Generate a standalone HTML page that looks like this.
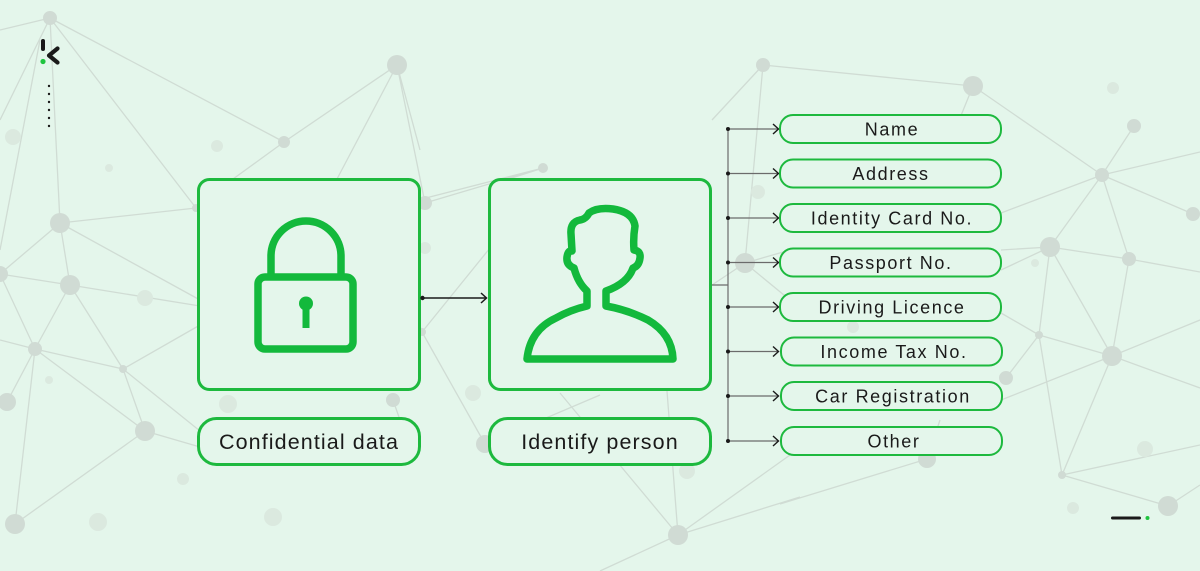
<!DOCTYPE html>
<html>
<head>
<meta charset="utf-8">
<style>
html,body{margin:0;padding:0;}
body{width:1200px;height:571px;overflow:hidden;background:#e4f6eb;}
svg{display:block;}
text{font-family:"Liberation Sans",sans-serif;fill:#1a1a1a;}
</style>
</head>
<body>
<svg width="1200" height="571" viewBox="0 0 1200 571" xmlns="http://www.w3.org/2000/svg">
<rect width="1200" height="571" fill="#e4f6eb"/>
<path fill="none" stroke="#d0dcd4" stroke-width="1.3" d="M50 18L0 30M50 18L284 142M50 18L196 208M50 18L60 223M50 18L0 120M40 40L0 250M397 65L284 142M397 65L425 203M397 65L337 179M397 65L420 150M284 142L233 179M60 223L196 208M60 223L0 274M60 223L70 285M60 223L200 300M0 274L70 285M0 274L35 349M70 285L200 306M70 285L35 349M70 285L123 369M35 349L0 340M35 349L123 369M35 349L7 402M35 349L15 524M35 349L145 431M123 369L200 325M123 369L145 431M123 369L200 431M145 431L200 447M145 431L15 524M393 400L400 420M425 203L543 168M543 168L490 185M543 168L418 200M422 332L490 248M422 332L485 444M422 332L418 320M485 444L600 395M678 535L667 391M678 535L800 497M678 535L790 455M678 535L560 393M678 535L600 571M763 65L973 86M763 65L745 263M763 65L712 120M745 263L712 285M745 263L790 250M745 263L790 300M973 86L1102 175M973 86L960 118M1134 126L1102 175M1102 175L1200 152M1102 175L1193 214M1102 175L1050 247M1102 175L1129 259M1102 175L1001 213M1050 247L1001 250M1050 247L1001 270M1050 247L1129 259M1050 247L1112 356M1050 247L1039 335M1129 259L1200 272M1129 259L1112 356M1039 335L1112 356M1039 335L1006 378M1039 335L1062 475M1039 335L1001 313M1112 356L1200 320M1112 356L1200 388M1112 356L1062 475M1112 356L1001 400M1062 475L1168 506M1062 475L1200 445M1168 506L1200 485M780 504L927 459M927 459L940 420"/>
<g fill="none" stroke-linecap="round">
<path stroke="#d0dbd4" stroke-width="20" d="M397 65h0M60 223h0M70 285h0M145 431h0M15 524h0M678 535h0M745 263h0M973 86h0M1050 247h0M1112 356h0M1168 506h0"/>
<path stroke="#d0dbd4" stroke-width="18" d="M7 402h0M485 444h0M927 459h0"/>
<path stroke="#d0dbd4" stroke-width="16" d="M0 274h0"/>
<path stroke="#d0dbd4" stroke-width="14" d="M50 18h0M35 349h0M393 400h0M425 203h0M763 65h0M1134 126h0M1102 175h0M1193 214h0M1129 259h0M1006 378h0"/>
<path stroke="#d0dbd4" stroke-width="12" d="M284 142h0"/>
<path stroke="#d0dbd4" stroke-width="10" d="M543 168h0"/>
<path stroke="#d0dbd4" stroke-width="8" d="M196 208h0M123 369h0M422 332h0M1039 335h0M1062 475h0"/>
<path stroke="#dbe9df" stroke-width="18" d="M98 522h0M273 517h0M228 404h0"/>
<path stroke="#dbe9df" stroke-width="16" d="M13 137h0M145 298h0M1145 449h0M473 393h0M687 471h0"/>
<path stroke="#dbe9df" stroke-width="14" d="M758 192h0"/>
<path stroke="#dbe9df" stroke-width="12" d="M217 146h0M183 479h0M1113 88h0M853 327h0M1073 508h0M425 248h0"/>
<path stroke="#dbe9df" stroke-width="8" d="M109 168h0M49 380h0M1035 263h0"/>
<path stroke="#1a1a1a" stroke-width="2.4" d="M49 86h0M49 94h0M49 102h0M49 110h0M49 118h0M49 126h0"/>
</g>
<rect x="41" y="39" width="4" height="12" rx="2" fill="#1a1a1a"/>
<polyline points="57.5,48.5 49,55.5 57.5,62.5" fill="none" stroke="#1a1a1a" stroke-width="4.2" stroke-linecap="round" stroke-linejoin="round"/>
<circle cx="43" cy="61.5" r="2.6" fill="#1fc43f"/>
<rect x="1111" y="516.5" width="30" height="3" rx="1.5" fill="#1a1a1a"/>
<circle cx="1147.5" cy="518" r="2" fill="#1fc43f"/>
<g fill="#e4f6eb" stroke="#1db93e" stroke-width="3">
<rect x="198.5" y="179.5" width="221" height="210" rx="11"/>
<rect x="198.5" y="418.5" width="221" height="46" rx="18"/>
<rect x="489.5" y="179.5" width="221" height="210" rx="11"/>
<rect x="489.5" y="418.5" width="221" height="46" rx="18"/>
</g>
<text x="309" y="449" font-size="21.5" text-anchor="middle" letter-spacing="1.1">Confidential data</text>
<text x="600" y="449" font-size="21.5" text-anchor="middle" letter-spacing="1.1">Identify person</text>
<g fill="none" stroke="#13b93c" stroke-width="7.5">
<path d="M271 277 L271 256 A35 35 0 0 1 341 256 L341 277"/>
<rect x="258" y="277" width="95" height="72" rx="7"/>
</g>
<circle cx="306" cy="303.5" r="7" fill="#13b93c"/>
<rect x="302.5" y="304" width="7" height="24" fill="#13b93c"/>
<path d="M587 306 L587 291 Q578 283 574 268 Q566 265 567 257 Q568 250 572 251 L571 234 Q570 222 580 220 Q586 219 589 213 Q597 207 613 209 Q633 212 635 226 Q633 238 634 250 Q641 251 640 258 Q639 266 633 268 Q628 283 606 291 L606 306 Q628 310 648 320 Q672 334 673 359 L527 359 Q530 330 556 318 Q570 310 587 306 Z" fill="none" stroke="#13b93c" stroke-width="7.5" stroke-linejoin="round"/>
<line x1="422" y1="298" x2="486.5" y2="298" stroke="#1a1a1a" stroke-width="1.5"/>
<circle cx="422.5" cy="298" r="2.2" fill="#1a1a1a"/>
<polyline points="481,293 486.5,298 481,303" fill="none" stroke="#1a1a1a" stroke-width="1.5"/>
<path fill="none" stroke="#6b6b6b" stroke-width="1.2" d="M712 285H728M728 129V441M728 129H778M728 173.5H778M728 218H778M728 262.5H778M728 307H778M728 351.5H778M728 396H778M728 441H778"/>
<path fill="none" stroke="#1a1a1a" stroke-width="4" stroke-linecap="round" d="M728 129h0M728 173.5h0M728 218h0M728 262.5h0M728 307h0M728 351.5h0M728 396h0M728 441h0"/>
<path fill="none" stroke="#1a1a1a" stroke-width="1.4" d="M773 124l5.5 5-5.5 5M773 168.5l5.5 5-5.5 5M773 213l5.5 5-5.5 5M773 257.5l5.5 5-5.5 5M773 302l5.5 5-5.5 5M773 346.5l5.5 5-5.5 5M773 391l5.5 5-5.5 5M773 436l5.5 5-5.5 5"/>
<g fill="#e4f6eb" stroke="#1db93e" stroke-width="2">
<rect x="780" y="115" width="221" height="28" rx="13"/>
<rect x="780" y="159.5" width="221" height="28" rx="13"/>
<rect x="780" y="204" width="221" height="28" rx="13"/>
<rect x="780" y="248.5" width="221" height="28" rx="13"/>
<rect x="780" y="293" width="221" height="28" rx="13"/>
<rect x="781" y="337.5" width="221" height="28" rx="13"/>
<rect x="781" y="382" width="221" height="28" rx="13"/>
<rect x="781" y="427" width="221" height="28" rx="13"/>
</g>
<g font-size="18" text-anchor="middle" letter-spacing="1.6">
<text x="892" y="135.5">Name</text>
<text x="891" y="180">Address</text>
<text x="892" y="224.5">Identity Card No.</text>
<text x="891" y="269">Passport No.</text>
<text x="892" y="313.5">Driving Licence</text>
<text x="894" y="358">Income Tax No.</text>
<text x="893" y="402.5">Car Registration</text>
<text x="894" y="447.5">Other</text>
</g>
</svg>
</body>
</html>
